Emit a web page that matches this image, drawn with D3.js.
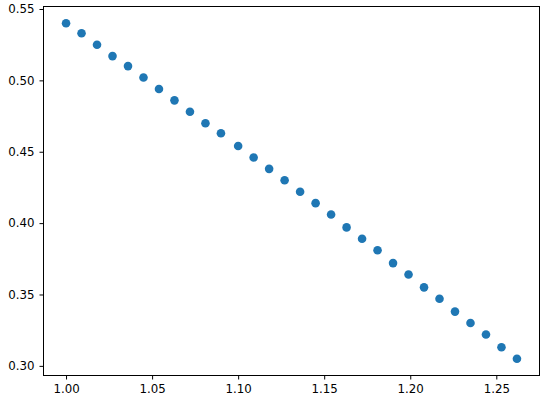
<!DOCTYPE html>
<html>
<head>
<meta charset="utf-8">
<script src="https://cdn.jsdelivr.net/npm/d3@7"></script>
<style>
  html, body { margin: 0; padding: 0; background: #fff; }
  svg { display: block; }
  text { font-family: "DejaVu Sans", sans-serif; }
</style>
</head>
<body>
<svg id="chart" width="543" height="401"></svg>
<script>
const xValues = [1.000, 1.009, 1.018, 1.027, 1.036, 1.045, 1.054, 1.063, 1.072, 1.081,
                 1.090, 1.100, 1.109, 1.118, 1.127, 1.136, 1.145, 1.154, 1.163, 1.172,
                 1.181, 1.190, 1.199, 1.208, 1.217, 1.226, 1.235, 1.244, 1.253, 1.262];
const yValues = [0.540, 0.533, 0.525, 0.517, 0.510, 0.502, 0.494, 0.486, 0.478, 0.470,
                 0.463, 0.454, 0.446, 0.438, 0.430, 0.422, 0.414, 0.406, 0.397, 0.389,
                 0.381, 0.372, 0.364, 0.355, 0.347, 0.338, 0.330, 0.322, 0.313, 0.305];
const xTicks = [1.00, 1.05, 1.10, 1.15, 1.20, 1.25];
const yTicks = [0.30, 0.35, 0.40, 0.45, 0.50, 0.55];

const svg = d3.select("#chart");
const mLeft = 43.5, mRight = 539.5, mTop = 6.5, mBottom = 375.5;

const pad = (ext) => { const r = ext[1] - ext[0]; return [ext[0] - 0.05 * r, ext[1] + 0.05 * r]; };
const x = d3.scaleLinear().domain(pad(d3.extent(xValues))).range([mLeft, mRight]);
const y = d3.scaleLinear().domain(pad(d3.extent(yValues))).range([mBottom, mTop]);

const data = xValues.map((v, i) => ({ x: v, y: yValues[i] }));

svg.append("g")
  .selectAll("circle")
  .data(data)
  .join("circle")
  .attr("cx", d => x(d.x))
  .attr("cy", d => y(d.y))
  .attr("r", 4.3)
  .attr("fill", "#1f77b4");

const xAxis = svg.append("g")
  .attr("transform", `translate(0,${mBottom})`)
  .call(d3.axisBottom(x).tickValues(xTicks).tickFormat(d3.format(".2f")).tickSize(4).tickPadding(5));
const yAxis = svg.append("g")
  .attr("transform", `translate(${mLeft},0)`)
  .call(d3.axisLeft(y).tickValues(yTicks).tickFormat(d3.format(".2f")).tickSize(4).tickPadding(5));

[xAxis, yAxis].forEach(g => {
  g.select(".domain").remove();
  g.selectAll("line").attr("stroke", "#000").attr("stroke-width", 1);
  g.selectAll("text").attr("fill", "#000").style("font-size", "11.8px")
   .style("font-family", "'DejaVu Sans', sans-serif");
});

svg.append("rect")
  .attr("x", mLeft).attr("y", mTop)
  .attr("width", mRight - mLeft).attr("height", mBottom - mTop)
  .attr("fill", "none").attr("stroke", "#000").attr("stroke-width", 1);
</script>
</body>
</html>
